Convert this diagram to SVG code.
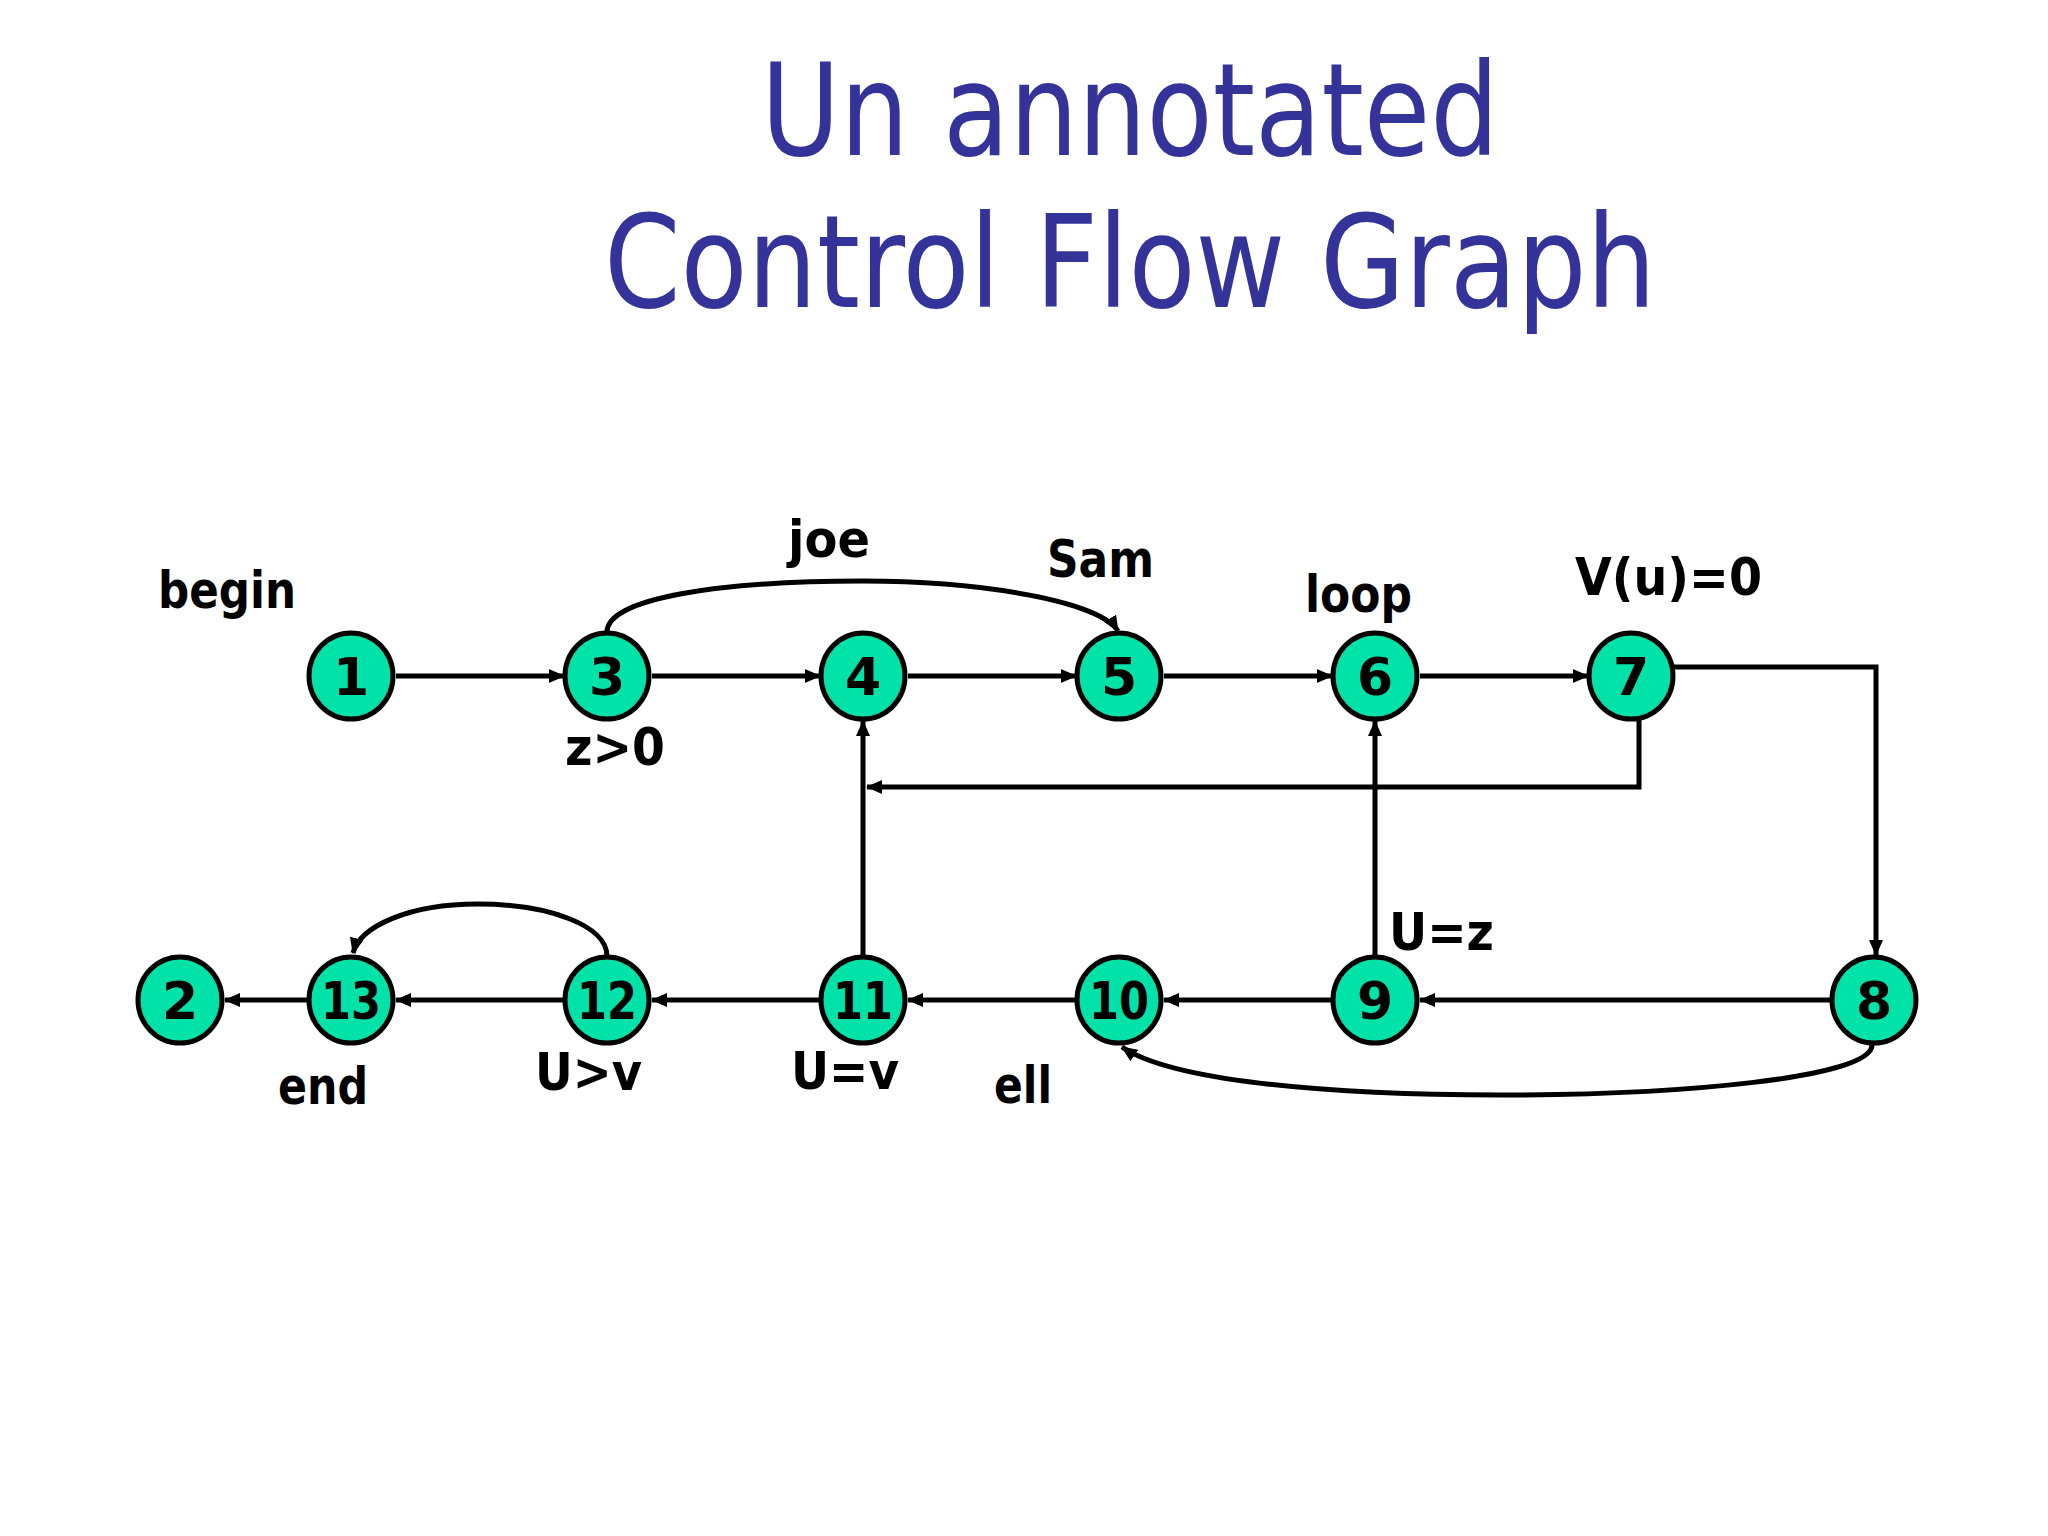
<svg xmlns="http://www.w3.org/2000/svg" width="2048" height="1536" viewBox="0 0 2048 1536">
<defs>
<style>
.title{font-family:"DejaVu Sans","Liberation Sans",sans-serif;font-size:128px;fill:#333399;}
.lbl{font-family:"DejaVu Sans","Liberation Sans",sans-serif;font-size:52px;font-weight:bold;fill:#000;}
.num{font-family:"DejaVu Sans","Liberation Sans",sans-serif;font-size:52px;font-weight:bold;fill:#000;}
.node ellipse{fill:#00E2A8;stroke:#000;stroke-width:5;}
.edge{fill:none;stroke:#000;stroke-width:5;marker-end:url(#arr);}
</style>
<marker id="arr" markerUnits="userSpaceOnUse" viewBox="0 0 16 14" markerWidth="16" markerHeight="14" refX="15" refY="7" orient="auto">
<path d="M0,0 L16,7 L0,14 z" fill="#000"/>
</marker>
</defs>
<rect width="2048" height="1536" fill="#fff"/>
<text class="title" x="761" y="155" textLength="738" lengthAdjust="spacingAndGlyphs">Un annotated</text>
<text class="title" x="604" y="307" textLength="1052" lengthAdjust="spacingAndGlyphs">Control Flow Graph</text>

<g id="connectors">
<path class="edge" d="M396,676 L564,676"/>
<path class="edge" d="M652,676 L820,676"/>
<path class="edge" d="M908,676 L1076,676"/>
<path class="edge" d="M1164,676 L1332,676"/>
<path class="edge" d="M1420,676 L1588,676"/>
<path class="edge" d="M607,632 C607,598 720,581 863,581 C985,581 1100,602 1118,631"/>
<path class="edge" d="M1673,667 L1876,667 L1876,955"/>
<path class="edge" d="M1639,719 L1639,787 L867,787"/>
<path class="edge" d="M863,955 L863,721"/>
<path class="edge" d="M1375,955 L1375,721"/>
<path class="edge" d="M1830,1000 L1420,1000"/>
<path class="edge" d="M1331,1000 L1164,1000"/>
<path class="edge" d="M1075,1000 L908,1000"/>
<path class="edge" d="M819,1000 L652,1000"/>
<path class="edge" d="M563,1000 L396,1000"/>
<path class="edge" d="M307,1000 L225,1000"/>
<path class="edge" d="M607,956 C607,926 550,904 477,904 C410,904 360,926 353,953"/>
<path class="edge" d="M1872,1045 C1872,1078 1680,1095 1500,1095 C1320,1095 1170,1080 1122,1047"/>
</g>

<g id="n1" class="node"><ellipse cx="351" cy="676" rx="42" ry="43"/><text class="num" x="351" y="695" text-anchor="middle">1</text></g>
<g id="n3" class="node"><ellipse cx="607" cy="676" rx="42" ry="43"/><text class="num" x="607" y="695" text-anchor="middle">3</text></g>
<g id="n4" class="node"><ellipse cx="863" cy="676" rx="42" ry="43"/><text class="num" x="863" y="695" text-anchor="middle">4</text></g>
<g id="n5" class="node"><ellipse cx="1119" cy="676" rx="42" ry="43"/><text class="num" x="1119" y="695" text-anchor="middle">5</text></g>
<g id="n6" class="node"><ellipse cx="1375" cy="676" rx="42" ry="43"/><text class="num" x="1375" y="695" text-anchor="middle">6</text></g>
<g id="n7" class="node"><ellipse cx="1631" cy="676" rx="42" ry="43"/><text class="num" x="1631" y="695" text-anchor="middle">7</text></g>
<g id="n2" class="node"><ellipse cx="180" cy="1000" rx="42" ry="43"/><text class="num" x="180" y="1019" text-anchor="middle">2</text></g>
<g id="n13" class="node"><ellipse cx="351" cy="1000" rx="42" ry="43"/><text class="num" x="321" y="1019" textLength="60" lengthAdjust="spacingAndGlyphs">13</text></g>
<g id="n12" class="node"><ellipse cx="607" cy="1000" rx="42" ry="43"/><text class="num" x="577" y="1019" textLength="60" lengthAdjust="spacingAndGlyphs">12</text></g>
<g id="n11" class="node"><ellipse cx="863" cy="1000" rx="42" ry="43"/><text class="num" x="833" y="1019" textLength="60" lengthAdjust="spacingAndGlyphs">11</text></g>
<g id="n10" class="node"><ellipse cx="1119" cy="1000" rx="42" ry="43"/><text class="num" x="1089" y="1019" textLength="60" lengthAdjust="spacingAndGlyphs">10</text></g>
<g id="n9" class="node"><ellipse cx="1375" cy="1000" rx="42" ry="43"/><text class="num" x="1375" y="1019" text-anchor="middle">9</text></g>
<g id="n8" class="node"><ellipse cx="1874" cy="1000" rx="42" ry="43"/><text class="num" x="1874" y="1019" text-anchor="middle">8</text></g>

<g id="labels">
<text class="lbl" x="158" y="608" textLength="138" lengthAdjust="spacingAndGlyphs">begin</text>
<text class="lbl" x="788" y="557" textLength="82" lengthAdjust="spacingAndGlyphs">joe</text>
<text class="lbl" x="1047" y="577" textLength="107" lengthAdjust="spacingAndGlyphs">Sam</text>
<text class="lbl" x="1305" y="612" textLength="107" lengthAdjust="spacingAndGlyphs">loop</text>
<text class="lbl" x="1575" y="595" textLength="187" lengthAdjust="spacingAndGlyphs">V(u)=0</text>
<text class="lbl" x="565" y="765" textLength="100" lengthAdjust="spacingAndGlyphs">z&gt;0</text>
<text class="lbl" x="1389" y="950" textLength="105" lengthAdjust="spacingAndGlyphs">U=z</text>
<text class="lbl" x="278" y="1104" textLength="90" lengthAdjust="spacingAndGlyphs">end</text>
<text class="lbl" x="535" y="1090" textLength="107" lengthAdjust="spacingAndGlyphs">U&gt;v</text>
<text class="lbl" x="791" y="1089" textLength="108" lengthAdjust="spacingAndGlyphs">U=v</text>
<text class="lbl" x="994" y="1103" textLength="58" lengthAdjust="spacingAndGlyphs">ell</text>
</g>
</svg>
